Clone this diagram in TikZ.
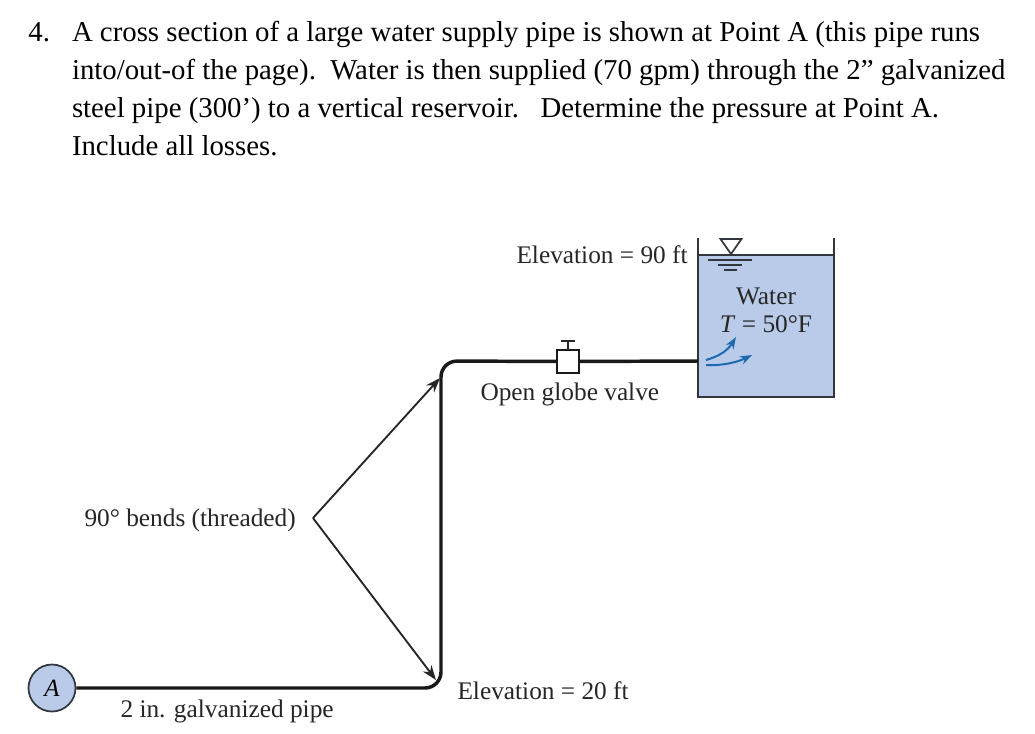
\documentclass[tikz,border=0pt]{standalone}
\usepackage{fontspec}
\setmainfont{Liberation Serif}
\usetikzlibrary{arrows.meta}
\tikzset{every picture/.style={line width=0.75pt}}
\definecolor{waterfill}{RGB}{185,203,232}
\definecolor{linegray}{RGB}{50,55,62}
\definecolor{flowblue}{RGB}{30,105,175}
\tikzset{
  problem/.style={anchor=base west,inner sep=0pt,font=\fontsize{21.6}{24}\selectfont},
  label/.style={anchor=base west,inner sep=0pt,font=\fontsize{19}{22}\selectfont,color=black!85},
  pipe/.style={line width=2.6pt,color=black!90},
  tankwall/.style={line width=1.1pt,color=linegray},
  leader/.style={line width=1.4pt,color=black!85,-{Stealth[length=11,width=8]}},
  flow/.style={line width=1.5pt,color=flowblue,-{Stealth[length=9,width=6.5]}},
}

\begin{document}
\begin{tikzpicture}[x=0.75pt,y=0.75pt,yscale=-1,xscale=1]
\useasboundingbox (0,0) rectangle (1035,733);

% Text Node
\node (num) [problem] at (28,41) {4.};
\node (line1) [problem] at (71.5,41) {A cross section of a large water supply pipe is shown at Point A (this pipe runs};
\node (line2) [problem] at (71.5,79) {into/out-of the page).\ \ Water is then supplied (70 gpm) through the 2” galvanized};
\node (line3) [problem] at (71.5,117) {steel pipe (300’) to a vertical reservoir.\ \ \ Determine the pressure at Point A.};
\node (line4) [problem] at (71.5,155) {Include all losses.};

%Shape: Tank
\fill [waterfill] (698,255) rectangle (834,397);
\draw [tankwall] (698,238) -- (698,397) -- (834,397) -- (834,238);
\draw [tankwall] (698,255) -- (834,255);
%Water level
\draw [tankwall,line width=1.3pt] (720.5,239) -- (741.5,239) -- (731,254) -- cycle;
\draw [tankwall] (708,260) -- (752,260);
\draw [tankwall] (718,265) -- (742,265);
\draw [tankwall] (724,270) -- (737,270);

% Valve and pipe
\node (valve) [draw=black!90,line width=1.3pt,fill=white,minimum width=21.5*0.75pt,minimum height=23*0.75pt,inner sep=0pt] at (568,361.5) {};
\coordinate (tankin) at (698,361);
\coordinate (top) at (441,361);
\coordinate (bottom) at (441,688);
\node (pointA) [circle,draw=linegray,line width=1.3pt,fill=waterfill,minimum size=47*0.75pt,inner sep=0pt,font=\fontsize{18.6}{22}\selectfont\itshape] at (52,688) {$\,$A\,};
\draw [pipe,rounded corners=16*0.75pt] (pointA) -- (bottom) -- (top) -- (valve);
\draw [pipe] (valve) -- (tankin);
\coordinate (stemtop) at (568,341);
\draw [line width=1.1pt,color=black!85] (valve.north) -- (stemtop);
\draw [line width=1.1pt,color=black!85] (561,341) -- (575,341);

%Flow arrows
\coordinate (flowa) at (706,360);
\coordinate (flowb) at (706,365);
\draw [flow] (flowa) .. controls (720,356) and (728,350) .. (736,337);
\draw [flow] (flowb) .. controls (722,366) and (738,362) .. (752,355);

% Text Node
\node (bends) [label] at (84,526) {90° bends (threaded)};
\coordinate (bendsvertex) at (313,518);
\coordinate (bendtop) at (440,378);
\coordinate (bendbottom) at (436,680);
\draw [leader] (bendsvertex) -- (bendtop);
\draw [leader] (bendsvertex) -- (bendbottom);

\node (elevtop) [label] at (516,263) {Elevation = 90 ft};
\node (elevbottom) [label] at (457,699) {Elevation = 20 ft};
\node (valvelabel) [label] at (480,400) {Open globe valve};
\node (pipelabel) [label] at (120,717) {2 in. galvanized pipe};
\node (water) [label,anchor=base] at (766,304) {Water};
\node (temp) [label,anchor=base] at (766,332) {\textit{T} = 50°F};
\end{tikzpicture}
\end{document}
